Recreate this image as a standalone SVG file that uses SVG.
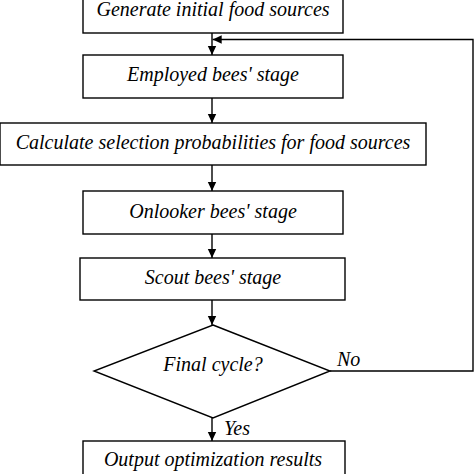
<svg xmlns="http://www.w3.org/2000/svg" width="474" height="474" viewBox="0 0 474 474">
<defs>
<marker id="ah" markerWidth="10" markerHeight="10" refX="9" refY="5" orient="auto" markerUnits="userSpaceOnUse">
<path d="M0,0.8 L9,5 L0,9.2 Z" fill="#000"/>
</marker>
</defs>
<style>
.box{fill:#fff;stroke:#000;stroke-width:1.4}
.t{font-family:"Liberation Serif","Times New Roman",serif;font-style:italic;font-size:20px;fill:#000;text-anchor:middle}
.c{fill:none;stroke:#000;stroke-width:1.4}
</style>
<rect width="474" height="474" fill="#fff"/>
<g id="connectors">
<line class="c" x1="212" y1="33" x2="212" y2="55" marker-end="url(#ah)"/>
<line class="c" x1="212" y1="98" x2="212" y2="123" marker-end="url(#ah)"/>
<line class="c" x1="212" y1="165" x2="212" y2="191" marker-end="url(#ah)"/>
<line class="c" x1="212" y1="234" x2="212" y2="258" marker-end="url(#ah)"/>
<line class="c" x1="212" y1="300" x2="212" y2="325" marker-end="url(#ah)"/>
<line class="c" x1="212" y1="418" x2="212" y2="441" marker-end="url(#ah)"/>
<polyline class="c" points="330,371 473,371 473,39.5 212.7,39.5" marker-end="url(#ah)"/>
<text class="t" x="337" y="366" style="text-anchor:start">No</text>
<text class="t" x="224" y="435" style="text-anchor:start">Yes</text>
</g>
<g id="n1"><rect class="box" x="83" y="-5" width="260" height="38"/><text class="t" x="213" y="16">Generate initial food sources</text></g>
<g id="n2"><rect class="box" x="83" y="55" width="260" height="43"/><text class="t" x="213" y="81">Employed bees' stage</text></g>
<g id="n3"><rect class="box" x="0" y="123" width="426" height="42"/><text class="t" x="213" y="149">Calculate selection probabilities for food sources</text></g>
<g id="n4"><rect class="box" x="83" y="191" width="260" height="43"/><text class="t" x="213" y="218">Onlooker bees' stage</text></g>
<g id="n5"><rect class="box" x="80" y="258" width="265" height="42"/><text class="t" x="213" y="284">Scout bees' stage</text></g>
<g id="n6"><polygon class="box" points="213,325 330,371 213,418 94,371"/><text class="t" x="213" y="371">Final cycle?</text></g>
<g id="n7"><rect class="box" x="83" y="441" width="262" height="40"/><text class="t" x="213" y="466">Output optimization results</text></g>
</svg>
